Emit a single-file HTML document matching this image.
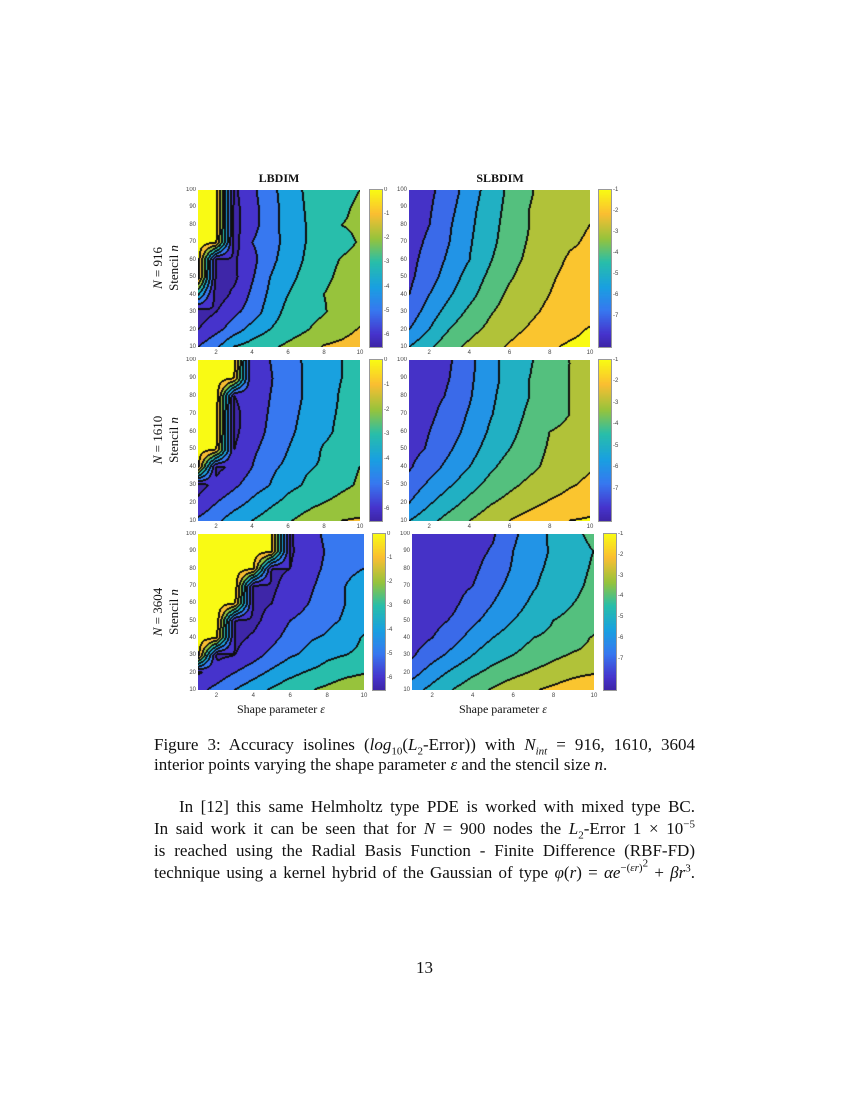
<!DOCTYPE html>
<html><head><meta charset="utf-8">
<style>
body{margin:0;background:#fff;}
#page{position:relative;width:850px;height:1100px;overflow:hidden;background:#fff;font-family:"Liberation Serif",serif;color:#111;}
.abs{position:absolute;}
.tk{position:absolute;font-family:"Liberation Sans",sans-serif;font-size:6px;color:#444;line-height:6px;white-space:nowrap;}
.ttl{position:absolute;font-weight:bold;font-size:12px;transform:translateX(-50%);}
.yl{position:absolute;font-size:13px;white-space:nowrap;transform:translate(-50%,-50%) rotate(-90deg);}
.xl{position:absolute;font-size:12px;white-space:nowrap;transform:translateX(-50%);}
.ln{position:absolute;left:154px;width:541px;font-size:17px;line-height:20px;white-space:nowrap;text-align:justify;text-align-last:justify;}
sub,sup{font-size:11px;line-height:0;}
</style></head>
<body>
<div id="page">
<div id="fig"></div>
<div class="ttl" style="left:279px;top:171px">LBDIM</div>
<div class="ttl" style="left:500px;top:171px">SLBDIM</div>
<div class="yl" style="left:158px;top:268px"><i>N</i> = 916</div>
<div class="yl" style="left:174px;top:268px">Stencil <i>n</i></div>
<div class="yl" style="left:158px;top:440px"><i>N</i> = 1610</div>
<div class="yl" style="left:174px;top:440px">Stencil <i>n</i></div>
<div class="yl" style="left:158px;top:612px"><i>N</i> = 3604</div>
<div class="yl" style="left:174px;top:612px">Stencil <i>n</i></div>
<div class="xl" style="left:281px;top:702px">Shape parameter <i>ε</i></div>
<div class="xl" style="left:503px;top:702px">Shape parameter <i>ε</i></div>

<div class="ln" style="top:735px">Figure 3: Accuracy isolines (<i>log</i><sub>10</sub>(<i>L</i><sub>2</sub>-Error)) with <i>N<sub>int</sub></i> = 916<i>,</i> 1610<i>,</i> 3604</div>
<div class="ln" style="top:755px;text-align-last:left">interior points varying the shape parameter <i>ε</i> and the stencil size <i>n</i>.</div>
<div class="ln" style="top:797px;left:179px;width:516px">In [12] this same Helmholtz type PDE is worked with mixed type BC.</div>
<div class="ln" style="top:819px">In said work it can be seen that for <i>N</i> = 900 nodes the <i>L</i><sub>2</sub>-Error 1 × 10<sup>−5</sup></div>
<div class="ln" style="top:841px">is reached using the Radial Basis Function - Finite Difference (RBF-FD)</div>
<div class="ln" style="top:863px">technique using a kernel hybrid of the Gaussian of type <i>φ</i>(<i>r</i>) = <i>αe</i><sup>−(<i>εr</i>)<sup>2</sup></sup> + <i>βr</i><sup>3</sup>.</div>
<div class="abs" style="left:416px;top:958px;font-size:17px">13</div>
</div>
<script>
// data: rows n=100 (top) .. n=10 (bottom), columns eps=1..10
const epsTicks=[2,4,6,8,10];
const nTicks=[10,20,30,40,50,60,70,80,90,100];
const lbTicks=[0,-1,-2,-3,-4,-5,-6];
const slbTicks=[-1,-2,-3,-4,-5,-6,-7];
const lb916=[
[0.5,0.3,-6.2,-5.2,-4.4,-3.4,-2.9,-2.6,-2.2,-2.0],
[0.5,0.3,-6.3,-5.3,-4.5,-3.5,-2.95,-2.6,-2.1,-1.9],
[0.5,0.3,-6.3,-5.3,-4.5,-3.5,-3.0,-2.6,-2.0,-1.9],
[0.5,0.0,-6.4,-5.0,-4.5,-3.6,-3.0,-2.5,-2.2,-1.95],
[0.3,-6.2,-6.1,-5.3,-4.3,-3.5,-2.9,-2.3,-1.95,-1.8],
[0.3,-6.3,-6.2,-5.1,-4.0,-3.3,-2.7,-2.2,-1.8,-1.7],
[-3.0,-6.5,-5.8,-4.8,-3.8,-3.0,-2.5,-2.0,-1.7,-1.5],
[-6.5,-6.0,-5.2,-4.6,-3.5,-2.7,-2.4,-2.1,-1.5,-1.3],
[-6.0,-5.3,-4.5,-3.6,-3.0,-2.5,-2.1,-1.6,-1.3,-0.95],
[-5.0,-4.2,-3.0,-2.6,-2.2,-1.8,-1.4,-0.95,-0.8,-0.6]];
const slb916=[
[-7.5,-7.2,-6.5,-5.5,-4.6,-3.8,-3.1,-2.6,-2.3,-2.1],
[-7.5,-7.1,-6.3,-5.3,-4.5,-3.7,-3.0,-2.6,-2.3,-2.1],
[-7.5,-7.0,-6.1,-5.2,-4.4,-3.6,-3.0,-2.6,-2.2,-2.0],
[-7.4,-6.8,-6.0,-5.1,-4.3,-3.5,-2.9,-2.5,-2.1,-1.9],
[-7.3,-6.6,-5.8,-5.0,-4.1,-3.3,-2.8,-2.3,-1.9,-1.8],
[-7.2,-6.4,-5.5,-4.6,-3.8,-3.1,-2.6,-2.1,-1.8,-1.7],
[-7.0,-6.0,-5.1,-4.3,-3.5,-2.8,-2.4,-2.0,-1.7,-1.5],
[-6.6,-5.5,-4.6,-3.8,-3.1,-2.6,-2.2,-1.8,-1.5,-1.3],
[-6.0,-5.0,-4.0,-3.3,-2.8,-2.3,-1.9,-1.5,-1.2,-0.95],
[-5.0,-4.2,-3.3,-2.8,-2.3,-1.9,-1.5,-1.1,-0.9,-0.8]];
const lb1610=[
[0.5,0.5,0.2,-6.0,-5.0,-4.3,-3.9,-3.4,-3.0,-2.8],
[0.5,0.5,0.0,-6.0,-5.1,-4.4,-3.9,-3.4,-3.0,-2.8],
[0.5,0.5,-6.0,-5.7,-5.0,-4.4,-3.9,-3.4,-2.9,-2.8],
[0.5,0.2,-6.2,-5.6,-4.9,-4.3,-3.8,-3.2,-2.9,-2.7],
[0.5,0.2,-6.2,-5.5,-4.8,-4.2,-3.7,-3.2,-2.8,-2.6],
[0.5,0.0,-6.0,-5.2,-4.6,-4.0,-3.5,-2.9,-2.7,-2.5],
[0.0,-6.2,-5.8,-5.0,-4.2,-3.8,-3.1,-2.9,-2.3,-2.0],
[-6.3,-5.8,-5.2,-4.5,-4.0,-3.3,-2.9,-2.6,-2.2,-1.9],
[-5.8,-5.0,-4.4,-3.8,-3.2,-2.7,-2.3,-2.0,-1.7,-1.5],
[-4.8,-4.2,-3.5,-3.0,-2.5,-2.1,-1.7,-1.3,-1.0,-0.9]];
const slb1610=[
[-7.5,-7.4,-7.1,-6.3,-5.3,-4.7,-4.1,-3.5,-3.0,-2.9],
[-7.5,-7.4,-7.0,-6.2,-5.3,-4.7,-4.0,-3.5,-3.0,-2.9],
[-7.5,-7.3,-6.9,-6.1,-5.2,-4.6,-4.0,-3.3,-3.0,-2.9],
[-7.5,-7.2,-6.6,-5.9,-5.1,-4.5,-3.8,-3.2,-3.0,-2.8],
[-7.4,-7.0,-6.4,-5.7,-4.9,-4.3,-3.6,-3.0,-2.9,-2.8],
[-7.3,-6.9,-6.1,-5.4,-4.6,-4.0,-3.4,-2.9,-2.9,-2.6],
[-7.1,-6.4,-5.7,-5.0,-4.2,-3.6,-3.2,-2.8,-2.4,-2.1],
[-6.6,-5.8,-5.1,-4.4,-3.7,-3.2,-2.8,-2.5,-2.1,-1.8],
[-6.0,-5.1,-4.4,-3.7,-3.1,-2.7,-2.3,-1.9,-1.6,-1.4],
[-5.0,-4.3,-3.6,-3.0,-2.5,-2.0,-1.6,-1.2,-1.0,-0.9]];
const lb3604=[
[0.5,0.5,0.5,0.5,0.2,-6.1,-5.4,-4.8,-4.4,-4.2],
[0.5,0.5,0.5,0.5,0.0,-6.1,-5.6,-4.9,-4.3,-4.0],
[0.5,0.5,0.5,0.0,-6.1,-6.0,-5.4,-4.8,-4.1,-4.0],
[0.5,0.5,0.5,-6.2,-6.1,-5.8,-5.2,-4.6,-4.0,-3.8],
[0.5,0.5,0.0,-6.2,-6.0,-5.6,-5.0,-4.4,-4.0,-3.7],
[0.5,0.5,-6.0,-6.2,-5.7,-5.0,-4.6,-4.2,-3.9,-3.6],
[0.5,0.0,-6.2,-5.9,-5.3,-4.6,-4.1,-3.9,-3.5,-2.9],
[0.2,-6.2,-6.0,-5.4,-4.7,-4.1,-3.8,-3.2,-3.0,-2.8],
[-6.1,-5.6,-5.0,-4.4,-3.8,-3.3,-2.9,-2.6,-2.3,-2.1],
[-5.3,-4.7,-4.0,-3.4,-2.9,-2.4,-2.1,-1.8,-1.4,-1.1]];
const slb3604=[
[-7.6,-7.6,-7.5,-7.3,-7.1,-6.2,-5.4,-4.8,-4.2,-3.8],
[-7.6,-7.6,-7.5,-7.3,-6.9,-6.0,-5.3,-4.9,-4.3,-4.0],
[-7.6,-7.6,-7.4,-7.2,-6.6,-5.9,-5.2,-4.8,-4.3,-3.9],
[-7.6,-7.5,-7.3,-7.0,-6.3,-5.7,-5.1,-4.6,-4.2,-3.8],
[-7.6,-7.4,-7.2,-6.6,-6.0,-5.4,-4.8,-4.3,-4.0,-3.7],
[-7.5,-7.3,-6.9,-6.2,-5.6,-5.0,-4.5,-4.0,-3.8,-3.6],
[-7.4,-7.0,-6.4,-5.6,-5.0,-4.5,-4.0,-3.8,-3.4,-2.9],
[-7.1,-6.4,-5.7,-5.0,-4.4,-4.0,-3.6,-3.2,-2.9,-2.8],
[-6.4,-5.5,-4.8,-4.2,-3.7,-3.3,-2.9,-2.6,-2.3,-2.1],
[-5.4,-4.7,-4.0,-3.4,-2.9,-2.4,-2.1,-1.8,-1.4,-1.1]];

const stops=[[0,62,38,168],[0.08,70,52,205],[0.23,55,120,240],[0.38,25,160,225],[0.54,40,190,170],[0.69,150,195,60],[0.85,250,190,50],[1,249,250,20]];
function cmap(t){t=Math.max(0,Math.min(1,t));for(let i=1;i<stops.length;i++){if(t<=stops[i][0]){const a=stops[i-1],b=stops[i],f=(t-a[0])/(b[0]-a[0]);return [a[1]+f*(b[1]-a[1]),a[2]+f*(b[2]-a[2]),a[3]+f*(b[3]-a[3])];}}return stops[7].slice(1);}

const panels=[
{name:'lbdim-916',g:lb916,x:198,y:190,w:162,h:157,cb:370,vmin:-6.5,vmax:0,ticks:lbTicks},
{name:'slbdim-916',g:slb916,x:409,y:190,w:181,h:157,cb:599,vmin:-8.5,vmax:-1,ticks:slbTicks},
{name:'lbdim-1610',g:lb1610,x:198,y:360,w:162,h:161,cb:370,vmin:-6.5,vmax:0,ticks:lbTicks},
{name:'slbdim-1610',g:slb1610,x:409,y:360,w:181,h:161,cb:599,vmin:-8.5,vmax:-1,ticks:slbTicks},
{name:'lbdim-3604',g:lb3604,x:198,y:534,w:166,h:156,cb:373,vmin:-6.5,vmax:0,ticks:lbTicks},
{name:'slbdim-3604',g:slb3604,x:412,y:534,w:182,h:156,cb:604,vmin:-8.5,vmax:-1,ticks:slbTicks}];

const fig=document.getElementById('fig');
function xs(p,e){return p.x+(e-1)/9*p.w;}
function ys(p,n){return p.y+(100-n)/90*p.h;}
function val(g,e,n){const c=Math.max(0,Math.min(8.9999,e-1));const r=Math.max(0,Math.min(8.9999,(100-n)/10));const i=Math.floor(c),j=Math.floor(r),fx=c-i,fy=r-j;
return g[j][i]*(1-fx)*(1-fy)+g[j][i+1]*fx*(1-fy)+g[j+1][i]*(1-fx)*fy+g[j+1][i+1]*fx*fy;}

panels.forEach(p=>{
  const cv=document.createElement('canvas');
  
  
  cv.width=p.w;cv.height=p.h;cv.style.cssText='position:absolute;left:'+p.x+'px;top:'+p.y+'px';
  fig.appendChild(cv);
  const ctx=cv.getContext('2d');const im=ctx.createImageData(p.w,p.h);
  const lev=[];
  for(let j=0;j<p.h;j++){lev[j]=[];for(let i=0;i<p.w;i++){
    const e=1+9*i/(p.w-1),n=100-90*j/(p.h-1);lev[j][i]=Math.floor(val(p.g,e,n));}}
  for(let j=0;j<p.h;j++)for(let i=0;i<p.w;i++){
    const L=Math.min(lev[j][i],Math.floor(p.vmax));
    let col=cmap((Math.max(L,p.vmin)-p.vmin)/(p.vmax-p.vmin));
    const v=lev[j][i];
    const edge=(i>0&&lev[j][i-1]!==v)||(j>0&&lev[j-1][i]!==v)||(i<p.w-1&&lev[j][i+1]!==v)||(j<p.h-1&&lev[j+1][i]!==v);
    if(edge)col=[15,15,15];
    const k=(j*p.w+i)*4;im.data[k]=col[0];im.data[k+1]=col[1];im.data[k+2]=col[2];im.data[k+3]=255;}
  ctx.putImageData(im,0,0);
  const cb=document.createElement('canvas');
  
  
  cb.width=12;cb.height=p.h;cb.style.cssText='position:absolute;left:'+p.cb+'px;top:'+p.y+'px;outline:0.5px solid #999';
  fig.appendChild(cb);
  const c2=cb.getContext('2d');
  for(let j=0;j<p.h;j++){const c=cmap(1-j/(p.h-1));c2.fillStyle='rgb('+c.map(Math.round).join(',')+')';c2.fillRect(0,j,12,1);}
  p.ticks.forEach(t=>{
    const yy=p.y+(p.vmax-t)/(p.vmax-p.vmin)*p.h;
    const d=document.createElement('div');
    
    
    d.className='tk';d.textContent=t;d.style.left=(p.cb+14)+'px';d.style.top=(yy-3)+'px';fig.appendChild(d);});
  nTicks.forEach(n=>{
    const d=document.createElement('div');
    
    
    d.className='tk';d.textContent=n;d.style.left=(p.x-14)+'px';d.style.width='12px';d.style.textAlign='right';d.style.top=(ys(p,n)-3)+'px';fig.appendChild(d);});
  epsTicks.forEach(e=>{
    const d=document.createElement('div');
    
    
    d.className='tk';d.textContent=e;d.style.left=(xs(p,e)-6)+'px';d.style.width='12px';d.style.textAlign='center';d.style.top=(p.y+p.h+3)+'px';fig.appendChild(d);});
});
</script>
</body></html>
